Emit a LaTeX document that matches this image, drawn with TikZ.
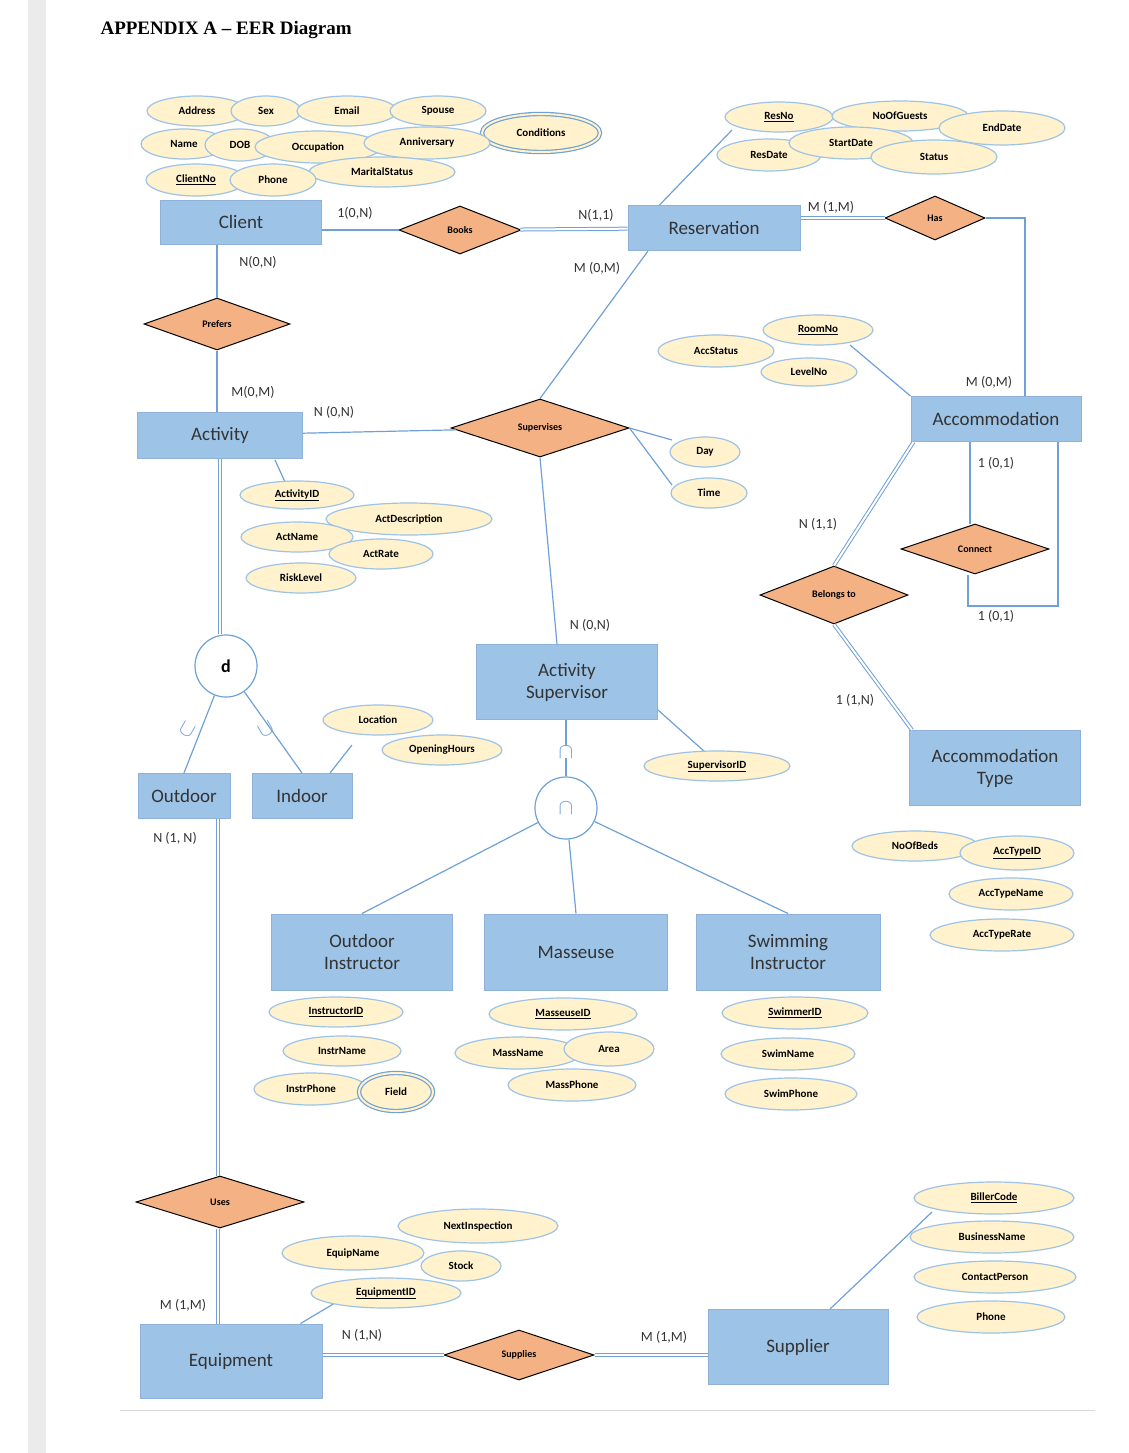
\documentclass[tikz,border=0pt]{standalone}
\usepackage{fontspec}
\setmainfont{Carlito}
\newfontfamily\titlefont{Liberation Serif}
\usetikzlibrary{shapes.geometric}
\definecolor{entfill}{HTML}{9DC3E6}
\definecolor{entdraw}{HTML}{8FB0D8}
\definecolor{attfill}{HTML}{FFF2CC}
\definecolor{attdraw}{HTML}{9DC3E6}
\definecolor{relfill}{HTML}{F4B183}
\definecolor{ln}{HTML}{6FA1D6}
\tikzset{
 ent/.style={rectangle,fill=entfill,draw=entdraw,line width=1pt,font=\fontsize{19}{22}\selectfont,align=center,text=black!80,inner sep=0},
 att/.style={ellipse,fill=attfill,draw=attdraw,line width=1.2pt,font=\fontsize{11}{12}\selectfont\bfseries,inner sep=0},
 datt/.style={att,double=attfill,double distance=2pt,draw=ln},
 rel/.style={diamond,fill=relfill,draw=black,line width=1pt,font=\fontsize{10}{11}\selectfont\bfseries,inner sep=0,aspect=2.5},
 cir/.style={circle,draw=ln,fill=white,line width=1.2pt,minimum size=62pt,font=\fontsize{18}{20}\selectfont\bfseries,inner sep=0},
 sl/.style={draw=ln,line width=1.2pt},
 dl/.style={draw=ln,double=white,double distance=2pt,line width=1pt},
 lab/.style={font=\fontsize{14}{16}\selectfont,text=black!80},
 sym/.style={text=ln,inner sep=0},
}
\begin{document}
\begin{tikzpicture}[x=1pt,y=-1pt]
\useasboundingbox (0,0) rectangle (1129,1453);
\fill[black!8] (28,0) rectangle (46,1453);
\node[anchor=west,font=\titlefont\fontsize{19}{21}\selectfont\bfseries] (title) at (97,30) {APPENDIX A – EER Diagram};
% entities
\node[ent,minimum width=161pt,minimum height=44pt] (client) at (241,222) {Client};
\node[ent,minimum width=172pt,minimum height=45pt] (res) at (714,228) {Reservation};
\node[ent,minimum width=165pt,minimum height=46pt] (act) at (220,435) {Activity};
\node[ent,minimum width=170pt,minimum height=45pt] (acc) at (996,419) {Accommodation};
\node[ent,minimum width=181pt,minimum height=75pt] (sup) at (567,682) {Activity\\Supervisor};
\node[ent,minimum width=171pt,minimum height=75pt] (acct) at (995,768) {Accommodation\\Type};
\node[ent,minimum width=92pt,minimum height=45pt] (out) at (184,796) {Outdoor};
\node[ent,minimum width=100pt,minimum height=45pt] (ind) at (302,796) {Indoor};
\node[ent,minimum width=181pt,minimum height=76pt] (oi) at (362,952) {Outdoor\\Instructor};
\node[ent,minimum width=183pt,minimum height=76pt] (mas) at (576,952) {Masseuse};
\node[ent,minimum width=184pt,minimum height=76pt] (si) at (788,952) {Swimming\\Instructor};
\node[ent,minimum width=182pt,minimum height=74pt] (eq) at (231,1361) {Equipment};
\node[ent,minimum width=180pt,minimum height=75pt] (spl) at (798,1347) {Supplier};
% relationships
\node[rel,minimum width=122pt,minimum height=48pt] (books) at (460,230) {Books};
\node[rel,minimum width=100pt,minimum height=44pt] (has) at (935,218) {Has};
\node[rel,minimum width=146pt,minimum height=52pt] (pref) at (217,324) {Prefers};
\node[rel,minimum width=178pt,minimum height=58pt] (sv) at (540,428) {Supervises};
\node[rel,minimum width=148pt,minimum height=50pt] (con) at (975,549) {Connect};
\node[rel,minimum width=148pt,minimum height=58pt] (bel) at (834,595) {Belongs to};
\node[rel,minimum width=168pt,minimum height=52pt] (uses) at (220,1202) {Uses};
\node[rel,minimum width=150pt,minimum height=50pt] (spls) at (519,1355) {Supplies};
% connectors
\coordinate (hasc) at (1025,218);
\draw[sl] (client.east|-books) -- (books);
\draw[dl] (books) -- (res);
\draw[dl] (res.east|-has) -- (has);
\draw[sl] (has.east) -- (hasc) -- (acc.north-|hasc);
\draw[sl] (client.south-|pref) -- (pref);
\draw[sl] (pref) -- (act.north-|pref);
\draw[sl] (act) -- (sv);
\draw[sl] (sv.north) -- (648,251);
\draw[sl] (sv.south) -- (sup.north-|557,0);
\node[cir] (d) at (226,666) {d};
\node[cir] (cap) at (566,808) {};
\node[sym,scale=2.2] (capc) at (566,808) {$\cap$};
\draw[dl] (act.south-|220,0) -- (220,634);
\draw[sl] (d) -- (out.north);
\draw[sl] (d) -- (ind.north);
\node[sym,rotate=-30,scale=2.2] (u1) at (187,730) {$\cup$};
\node[sym,rotate=30,scale=2.2] (u2) at (266,730) {$\cup$};
\draw[sl] (sup.south-|cap) -- (cap);
\node[fill=white,sym,scale=2.2] (capsym) at (566,752) {$\cap$};
\draw[sl] (cap) -- (oi.north);
\draw[sl] (cap) -- (mas.north);
\draw[sl] (cap) -- (si.north);
\draw[dl] (out.south-|218,0) -- (uses.north-|218,0);
\draw[dl] (uses.south-|218,0) -- (eq.north-|218,0);
\draw[dl] (eq.east|-spls) -- (spls);
\draw[dl] (spls) -- (spl.west|-spls);
\draw[dl] (acc.south west) ++(3,0) -- (bel.north);
\draw[dl] (bel.south) -- ([xshift=3pt]acct.north west);
\coordinate (c1) at (970,442);
\coordinate (c2) at (1058,442);
\coordinate (c3) at (1058,606);
\coordinate (c4) at (968,606);
\draw[sl] (c1) -- (con.north-|c1);
\draw[sl] (c2) -- (c3) -- (c4) -- (con.south-|c4);
% labels
\node[lab] (l1) at (355,213) {1(0,N)};
\node[lab] (l2) at (596,215) {N(1,1)};
\node[lab] (l3) at (831,207) {M (1,M)};
\node[lab] (l4) at (989,382) {M (0,M)};
\node[lab] (l5) at (258,262) {N(0,N)};
\node[lab] (l6) at (253,392) {M(0,M)};
\node[lab] (l7) at (334,412) {N (0,N)};
\node[lab] (l8) at (597,268) {M (0,M)};
\node[lab] (l9) at (590,625) {N (0,N)};
\node[lab] (l10) at (818,524) {N (1,1)};
\node[lab] (l11) at (855,700) {1 (1,N)};
\node[lab] (l12) at (996,463) {1 (0,1)};
\node[lab] (l13) at (996,616) {1 (0,1)};
\node[lab] (l14) at (175,838) {N (1, N)};
\node[lab] (l15) at (183,1305) {M (1,M)};
\node[lab] (l16) at (362,1335) {N (1,N)};
\node[lab] (l17) at (664,1337) {M (1,M)};
% client attributes
\node[att,minimum width=100pt,minimum height=30pt] (a1) at (197,111) {Address};
\node[att,minimum width=70pt,minimum height=30pt] (a2) at (266,111) {Sex};
\node[att,minimum width=100pt,minimum height=30pt] (a3) at (347,111) {Email};
\node[att,minimum width=96pt,minimum height=30pt] (a4) at (438,111) {Spouse};
\node[datt,minimum width=118pt,minimum height=38pt] (a5) at (541,133) {Conditions};
\node[att,minimum width=86pt,minimum height=30pt] (a6) at (184,144) {Name};
\node[att,minimum width=70pt,minimum height=32pt] (a7) at (240,145) {DOB};
\node[att,minimum width=126pt,minimum height=32pt] (a8) at (318,147) {Occupation};
\node[att,minimum width=126pt,minimum height=32pt] (a9) at (427,143) {Anniversary};
\node[att,minimum width=146pt,minimum height=30pt] (a12) at (382,172) {MaritalStatus};
\node[att,minimum width=100pt,minimum height=32pt] (a10) at (196,180) {\underline{ClientNo}};
\node[att,minimum width=86pt,minimum height=32pt] (a11) at (273,180) {Phone};
% reservation attributes
\draw[sl] (res.north west) ++(32,0) -- (732,130);
\node[att,minimum width=108pt,minimum height=30pt] (r1) at (779,117) {\underline{ResNo}};
\node[att,minimum width=136pt,minimum height=30pt] (r2) at (900,116) {NoOfGuests};
\node[att,minimum width=126pt,minimum height=34pt] (r3) at (1002,128) {EndDate};
\node[att,minimum width=104pt,minimum height=32pt] (r6) at (769,155) {ResDate};
\node[att,minimum width=124pt,minimum height=32pt] (r4) at (851,143) {StartDate};
\node[att,minimum width=126pt,minimum height=34pt] (r5) at (934,157) {Status};
% accommodation attributes
\draw[sl] (850,345) -- (acc.north west);
\node[att,minimum width=110pt,minimum height=30pt] (m1) at (818,330) {\underline{RoomNo}};
\node[att,minimum width=96pt,minimum height=28pt] (m3) at (809,372) {LevelNo};
\node[att,minimum width=116pt,minimum height=32pt] (m2) at (716,351) {AccStatus};
% supervises attributes
\draw[sl] (sv.east) -- (672,440);
\draw[sl] (sv.east) -- (672,485);
\node[att,minimum width=70pt,minimum height=30pt] (s1) at (705,452) {Day};
\node[att,minimum width=76pt,minimum height=30pt] (s2) at (709,493) {Time};
% activity attributes
\draw[sl] (275,460) -- (285,482);
\node[att,minimum width=114pt,minimum height=28pt] (t1) at (297,495) {\underline{ActivityID}};
\node[att,minimum width=166pt,minimum height=32pt] (t2) at (409,519) {ActDescription};
\node[att,minimum width=112pt,minimum height=30pt] (t3) at (297,537) {ActName};
\node[att,minimum width=104pt,minimum height=30pt] (t4) at (381,554) {ActRate};
\node[att,minimum width=110pt,minimum height=30pt] (t5) at (301,578) {RiskLevel};
% indoor attributes
\draw[sl] (330,773) -- (352,745);
\node[att,minimum width=110pt,minimum height=30pt] (i1) at (378,720) {Location};
\node[att,minimum width=120pt,minimum height=30pt] (i2) at (442,750) {OpeningHours};
% supervisor attribute
\draw[sl] (sup.south east) ++(0,-10) -- (705,752);
\node[att,minimum width=146pt,minimum height=30pt] (p1) at (717,766) {\underline{SupervisorID}};
% acc type attributes
\node[att,minimum width=126pt,minimum height=30pt] (y1) at (915,846) {NoOfBeds};
\node[att,minimum width=114pt,minimum height=34pt] (y2) at (1017,853) {\underline{AccTypeID}};
\node[att,minimum width=124pt,minimum height=32pt] (y3) at (1011,894) {AccTypeName};
\node[att,minimum width=144pt,minimum height=32pt] (y4) at (1002,935) {AccTypeRate};
% outdoor instructor attributes
\node[att,minimum width=134pt,minimum height=30pt] (o1) at (336,1012) {\underline{InstructorID}};
\node[att,minimum width=118pt,minimum height=30pt] (o2) at (342,1051) {InstrName};
\node[att,minimum width=114pt,minimum height=32pt] (o3) at (311,1089) {InstrPhone};
\node[datt,minimum width=74pt,minimum height=38pt] (o4) at (396,1092) {Field};
% masseuse attributes
\node[att,minimum width=148pt,minimum height=32pt] (n1) at (563,1014) {\underline{MasseuseID}};
\node[att,minimum width=126pt,minimum height=32pt] (n2) at (518,1053) {MassName};
\node[att,minimum width=90pt,minimum height=34pt] (n3) at (609,1049) {Area};
\node[att,minimum width=128pt,minimum height=32pt] (n4) at (572,1085) {MassPhone};
% swimming attributes
\node[att,minimum width=146pt,minimum height=32pt] (w1) at (795,1013) {\underline{SwimmerID}};
\node[att,minimum width=134pt,minimum height=32pt] (w2) at (788,1054) {SwimName};
\node[att,minimum width=132pt,minimum height=32pt] (w3) at (791,1094) {SwimPhone};
% equipment attributes
\draw[sl] (eq.north east) ++(-22,0) -- (340,1300);
\node[att,minimum width=160pt,minimum height=34pt] (e1) at (478,1226) {NextInspection};
\node[att,minimum width=142pt,minimum height=34pt] (e2) at (353,1253) {EquipName};
\node[att,minimum width=80pt,minimum height=30pt] (e3) at (461,1266) {Stock};
\node[att,minimum width=150pt,minimum height=30pt] (e4) at (386,1293) {\underline{EquipmentID}};
% supplier attributes
\draw[sl] (spl.north) ++(32,0) -- (932,1212);
\node[att,minimum width=160pt,minimum height=32pt] (b1) at (994,1198) {\underline{BillerCode}};
\node[att,minimum width=164pt,minimum height=32pt] (b2) at (992,1237) {BusinessName};
\node[att,minimum width=162pt,minimum height=32pt] (b3) at (995,1277) {ContactPerson};
\node[att,minimum width=148pt,minimum height=32pt] (b4) at (991,1317) {Phone};
\draw[draw=black!15,line width=1pt] (120,1410) -- (1095,1410);
\end{tikzpicture}
\end{document}
